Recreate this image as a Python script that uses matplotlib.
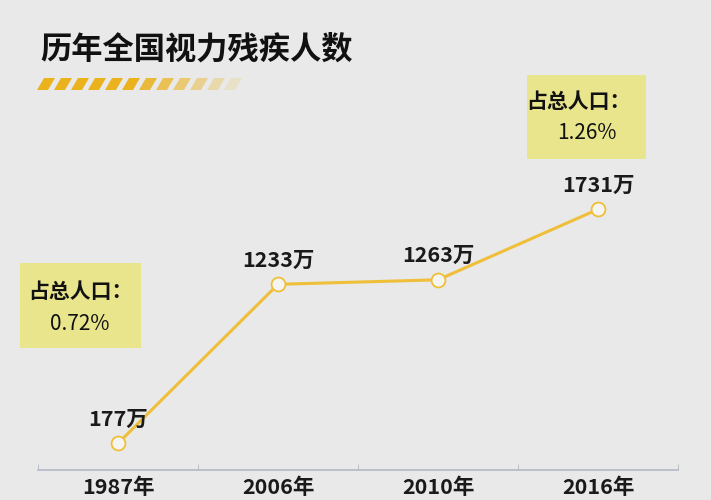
import matplotlib
matplotlib.use('Agg')
import matplotlib.pyplot as plt
from matplotlib.patches import Rectangle, Polygon

plt.rcParams['font.family'] = ['Noto Sans CJK SC', 'DejaVu Sans']

years = ['1987年', '2006年', '2010年', '2016年']
counts = [177, 1233, 1263, 1731]
count_labels = ['177万', '1233万', '1263万', '1731万']
share_notes = ['0.72%', '1.26%']

bg = '#e9e9e9'
gold = '#efbf3a'

fig = plt.figure(figsize=(7.11, 5.0), dpi=100, facecolor=bg)

# overlay in pixel coordinates for decorations
deco = fig.add_axes([0, 0, 1, 1], zorder=0)
deco.set_xlim(0, 711)
deco.set_ylim(500, 0)
deco.axis('off')

ax = fig.add_axes([38 / 711, 30 / 500, 640 / 711, 406.6 / 500], zorder=2)
ax.patch.set_alpha(0)
x = range(len(years))
ax.plot(x, counts, color=gold, lw=2.2, marker='o', ms=10, mfc='#f4f4f0',
        mec=gold, mew=1.3, zorder=3)
for i, (v, lab) in enumerate(zip(counts, count_labels)):
    ax.annotate(lab, (i, v), xytext=(0, 17.5), textcoords='offset points',
                ha='center', va='center', fontsize=15.5, fontweight='bold',
                color='#1a1a1a')

ax.set_xlim(-0.5, 3.5)
ax.set_ylim(0, 2700)
ax.set_xticks(list(x))
ax.set_xticklabels(years, fontsize=15.5, fontweight='bold', color='#1a1a1a')
ax.set_xticks([-0.5, 0.5, 1.5, 2.5, 3.5], minor=True)
ax.tick_params(axis='x', which='major', length=0, pad=5)
ax.tick_params(axis='x', which='minor', length=4, direction='in', color='#b4b8c6')
ax.set_yticks([])
for s in ['top', 'right', 'left']:
    ax.spines[s].set_visible(False)
ax.spines['bottom'].set_color('#b4b8c6')
ax.spines['bottom'].set_linewidth(1.2)

# title and stripe decoration
deco.text(40, 50, '历年全国视力残疾人数', fontsize=22.5, fontweight='heavy',
          color='#111111', va='center', ha='left')
n = 12
for k in range(n):
    x0 = 37 + k * 17
    a = 1.0 if k < 6 else max(0.15, 1.0 - (k - 5) * 0.14)
    deco.add_patch(Polygon([[x0, 90], [x0 + 7, 78], [x0 + 18, 78], [x0 + 11, 90]],
                           closed=True, facecolor='#eab21c', edgecolor='none',
                           alpha=a))

# share boxes
deco.add_patch(Rectangle((20, 263), 121, 85, facecolor='#e9e58d', edgecolor='none'))
deco.text(80, 292, '占总人口：', fontsize=15, fontweight='bold', ha='center',
          va='center', color='#111111')
deco.text(80, 324, share_notes[0], fontsize=15, ha='center', va='center',
          color='#111111')
deco.add_patch(Rectangle((527, 75), 119, 84, facecolor='#e9e58d', edgecolor='none'))
deco.text(578, 101, '占总人口：', fontsize=15, fontweight='bold', ha='center',
          va='center', color='#111111')
deco.text(587, 133, share_notes[1], fontsize=15, ha='center', va='center',
          color='#111111')

fig.savefig('out.png', dpi=100, facecolor=bg)
